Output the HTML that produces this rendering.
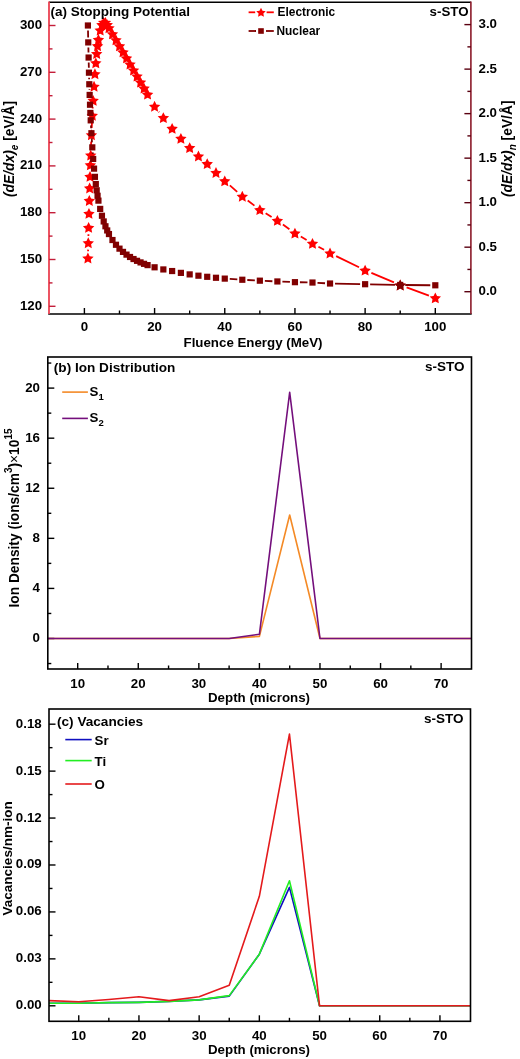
<!DOCTYPE html>
<html><head><meta charset="utf-8"><style>
html,body{margin:0;padding:0;background:#fff;}
svg{display:block;font-family:"Liberation Sans",Arial,sans-serif;font-weight:bold;}

</style></head><body>
<svg width="520" height="1059" viewBox="0 0 520 1059">
<path d="M88.07,251.30L88.10,249.61 M88.42,236.01L88.45,234.32 M90.95,148.34L91.18,141.65 M91.72,128.06L91.99,122.15 M92.69,108.57L92.77,107.17 M158.73,111.69L159.20,112.31 M229.86,185.37L237.20,191.83 M247.71,200.45L254.45,205.61 M265.65,213.29L271.60,216.94 M282.91,224.47L289.42,229.16 M300.80,236.58L306.62,239.99 M318.44,246.71L324.07,249.82 M336.14,256.09L359.01,267.28 M371.38,272.91L393.95,282.44 M406.60,287.41L428.91,295.55" fill="none" stroke="#ff0000" stroke-width="1.8"/>
<path d="M87.91,252.60 L89.67,256.17 L93.62,256.74 L90.76,259.52 L91.44,263.45 L87.91,261.60 L84.38,263.45 L85.06,259.52 L82.20,256.74 L86.15,256.17Z M88.26,237.31 L90.02,240.88 L93.97,241.45 L91.11,244.24 L91.79,248.16 L88.26,246.31 L84.73,248.16 L85.41,244.24 L82.55,241.45 L86.50,240.88Z M88.61,222.02 L90.37,225.59 L94.32,226.17 L91.46,228.95 L92.14,232.87 L88.61,231.02 L85.08,232.87 L85.76,228.95 L82.90,226.17 L86.85,225.59Z M88.96,207.98 L90.73,211.55 L94.67,212.13 L91.81,214.91 L92.49,218.83 L88.96,216.98 L85.43,218.83 L86.11,214.91 L83.26,212.13 L87.20,211.55Z M89.31,195.03 L91.08,198.60 L95.02,199.18 L92.17,201.96 L92.84,205.89 L89.31,204.03 L85.79,205.89 L86.46,201.96 L83.61,199.18 L87.55,198.60Z M89.66,182.55 L91.43,186.12 L95.37,186.70 L92.52,189.48 L93.19,193.41 L89.66,191.55 L86.14,193.41 L86.81,189.48 L83.96,186.70 L87.90,186.12Z M90.01,171.01 L91.78,174.58 L95.72,175.15 L92.87,177.94 L93.54,181.86 L90.01,180.01 L86.49,181.86 L87.16,177.94 L84.31,175.15 L88.25,174.58Z M90.37,159.46 L92.13,163.04 L96.07,163.61 L93.22,166.39 L93.89,170.32 L90.37,168.46 L86.84,170.32 L87.51,166.39 L84.66,163.61 L88.60,163.04Z M90.72,149.64 L92.48,153.21 L96.42,153.78 L93.57,156.56 L94.24,160.49 L90.72,158.64 L87.19,160.49 L87.86,156.56 L85.01,153.78 L88.95,153.21Z M91.42,129.36 L93.18,132.93 L97.12,133.50 L94.27,136.28 L94.94,140.21 L91.42,138.36 L87.89,140.21 L88.56,136.28 L85.71,133.50 L89.65,132.93Z M92.30,109.86 L94.06,113.43 L98.00,114.00 L95.15,116.78 L95.82,120.71 L92.30,118.86 L88.77,120.71 L89.44,116.78 L86.59,114.00 L90.53,113.43Z M93.17,94.88 L94.94,98.45 L98.88,99.03 L96.03,101.81 L96.70,105.73 L93.17,103.88 L89.65,105.73 L90.32,101.81 L87.47,99.03 L91.41,98.45Z M94.05,80.84 L95.81,84.41 L99.76,84.99 L96.90,87.77 L97.58,91.69 L94.05,89.84 L90.52,91.69 L91.20,87.77 L88.34,84.99 L92.29,84.41Z M94.93,68.36 L96.69,71.93 L100.63,72.51 L97.78,75.29 L98.45,79.21 L94.93,77.36 L91.40,79.21 L92.07,75.29 L89.22,72.51 L93.16,71.93Z M95.80,57.44 L97.57,61.01 L101.51,61.59 L98.66,64.37 L99.33,68.29 L95.80,66.44 L92.28,68.29 L92.95,64.37 L90.10,61.59 L94.04,61.01Z M96.68,48.08 L98.44,51.65 L102.39,52.23 L99.53,55.01 L100.21,58.93 L96.68,57.08 L93.15,58.93 L93.83,55.01 L90.98,52.23 L94.92,51.65Z M97.56,40.28 L99.32,43.85 L103.27,44.43 L100.41,47.21 L101.09,51.13 L97.56,49.28 L94.03,51.13 L94.71,47.21 L91.85,44.43 L95.80,43.85Z M98.44,34.04 L100.20,37.61 L104.14,38.19 L101.29,40.97 L101.96,44.89 L98.44,43.04 L94.91,44.89 L95.58,40.97 L92.73,38.19 L96.67,37.61Z M100.19,24.68 L101.95,28.25 L105.90,28.83 L103.04,31.61 L103.72,35.53 L100.19,33.68 L96.66,35.53 L97.34,31.61 L94.48,28.83 L98.43,28.25Z M101.95,19.22 L103.71,22.79 L107.65,23.37 L104.80,26.15 L105.47,30.07 L101.95,28.22 L98.42,30.07 L99.09,26.15 L96.24,23.37 L100.18,22.79Z M103.70,16.88 L105.46,20.45 L109.41,21.03 L106.55,23.81 L107.23,27.73 L103.70,25.88 L100.17,27.73 L100.85,23.81 L97.99,21.03 L101.94,20.45Z M105.45,16.88 L107.22,20.45 L111.16,21.03 L108.31,23.81 L108.98,27.73 L105.45,25.88 L101.93,27.73 L102.60,23.81 L99.75,21.03 L103.69,20.45Z M107.21,19.22 L108.97,22.79 L112.91,23.37 L110.06,26.15 L110.74,30.07 L107.21,28.22 L103.68,30.07 L104.36,26.15 L101.50,23.37 L105.45,22.79Z M108.96,22.34 L110.73,25.91 L114.67,26.49 L111.82,29.27 L112.49,33.19 L108.96,31.34 L105.44,33.19 L106.11,29.27 L103.26,26.49 L107.20,25.91Z M112.47,28.38 L114.24,31.95 L118.18,32.52 L115.33,35.30 L116.00,39.23 L112.47,37.38 L108.95,39.23 L109.62,35.30 L106.77,32.52 L110.71,31.95Z M115.98,34.41 L117.74,37.98 L121.69,38.56 L118.83,41.34 L119.51,45.27 L115.98,43.41 L112.45,45.27 L113.13,41.34 L110.27,38.56 L114.22,37.98Z M119.49,40.45 L121.25,44.02 L125.20,44.59 L122.34,47.38 L123.02,51.30 L119.49,49.45 L115.96,51.30 L116.64,47.38 L113.78,44.59 L117.73,44.02Z M123.00,46.48 L124.76,50.06 L128.71,50.63 L125.85,53.41 L126.53,57.34 L123.00,55.48 L119.47,57.34 L120.15,53.41 L117.29,50.63 L121.24,50.06Z M126.51,52.52 L128.27,56.09 L132.21,56.67 L129.36,59.45 L130.03,63.37 L126.51,61.52 L122.98,63.37 L123.65,59.45 L120.80,56.67 L124.74,56.09Z M130.02,58.56 L131.78,62.13 L135.72,62.70 L132.87,65.48 L133.54,69.41 L130.02,67.56 L126.49,69.41 L127.16,65.48 L124.31,62.70 L128.25,62.13Z M133.53,64.59 L135.29,68.16 L139.23,68.74 L136.38,71.52 L137.05,75.45 L133.53,73.59 L130.00,75.45 L130.67,71.52 L127.82,68.74 L131.76,68.16Z M137.03,70.63 L138.80,74.20 L142.74,74.77 L139.89,77.56 L140.56,81.48 L137.03,79.63 L133.51,81.48 L134.18,77.56 L131.33,74.77 L135.27,74.20Z M140.54,76.66 L142.31,80.24 L146.25,80.81 L143.40,83.59 L144.07,87.52 L140.54,85.66 L137.02,87.52 L137.69,83.59 L134.84,80.81 L138.78,80.24Z M144.05,82.70 L145.82,86.27 L149.76,86.85 L146.91,89.63 L147.58,93.55 L144.05,91.70 L140.53,93.55 L141.20,89.63 L138.35,86.85 L142.29,86.27Z M147.56,88.74 L149.33,92.31 L153.27,92.88 L150.42,95.66 L151.09,99.59 L147.56,97.74 L144.04,99.59 L144.71,95.66 L141.86,92.88 L145.80,92.31Z M154.58,100.81 L156.34,104.38 L160.29,104.95 L157.43,107.74 L158.11,111.66 L154.58,109.81 L151.05,111.66 L151.73,107.74 L148.87,104.95 L152.82,104.38Z M163.35,112.20 L165.12,115.77 L169.06,116.34 L166.21,119.12 L166.88,123.05 L163.35,121.20 L159.83,123.05 L160.50,119.12 L157.65,116.34 L161.59,115.77Z M172.12,122.96 L173.89,126.53 L177.83,127.11 L174.98,129.89 L175.65,133.81 L172.12,131.96 L168.60,133.81 L169.27,129.89 L166.42,127.11 L170.36,126.53Z M180.90,132.94 L182.66,136.52 L186.60,137.09 L183.75,139.87 L184.42,143.80 L180.90,141.94 L177.37,143.80 L178.04,139.87 L175.19,137.09 L179.13,136.52Z M189.67,142.15 L191.43,145.72 L195.38,146.29 L192.52,149.08 L193.20,153.00 L189.67,151.15 L186.14,153.00 L186.82,149.08 L183.96,146.29 L187.91,145.72Z M198.44,150.57 L200.21,154.14 L204.15,154.72 L201.30,157.50 L201.97,161.43 L198.44,159.57 L194.92,161.43 L195.59,157.50 L192.74,154.72 L196.68,154.14Z M207.22,158.22 L208.98,161.79 L212.92,162.36 L210.07,165.14 L210.74,169.07 L207.22,167.22 L203.69,169.07 L204.36,165.14 L201.51,162.36 L205.45,161.79Z M215.99,167.11 L217.75,170.68 L221.69,171.25 L218.84,174.04 L219.51,177.96 L215.99,176.11 L212.46,177.96 L213.13,174.04 L210.28,171.25 L214.22,170.68Z M224.76,175.38 L226.52,178.95 L230.47,179.52 L227.61,182.30 L228.29,186.23 L224.76,184.38 L221.23,186.23 L221.91,182.30 L219.05,179.52 L223.00,178.95Z M242.31,190.82 L244.07,194.39 L248.01,194.97 L245.16,197.75 L245.83,201.67 L242.31,199.82 L238.78,201.67 L239.45,197.75 L236.60,194.97 L240.54,194.39Z M259.85,204.24 L261.61,207.81 L265.56,208.38 L262.70,211.16 L263.38,215.09 L259.85,213.24 L256.32,215.09 L257.00,211.16 L254.14,208.38 L258.09,207.81Z M277.39,215.00 L279.16,218.57 L283.10,219.15 L280.25,221.93 L280.92,225.85 L277.39,224.00 L273.87,225.85 L274.54,221.93 L271.69,219.15 L275.63,218.57Z M294.94,227.64 L296.70,231.21 L300.65,231.78 L297.79,234.56 L298.47,238.49 L294.94,236.64 L291.41,238.49 L292.09,234.56 L289.23,231.78 L293.18,231.21Z M312.49,237.93 L314.25,241.50 L318.19,242.08 L315.34,244.86 L316.01,248.79 L312.49,246.93 L308.96,248.79 L309.63,244.86 L306.78,242.08 L310.72,241.50Z M330.03,247.60 L331.79,251.18 L335.74,251.75 L332.88,254.53 L333.56,258.46 L330.03,256.60 L326.50,258.46 L327.18,254.53 L324.32,251.75 L328.27,251.18Z M365.12,264.76 L366.88,268.34 L370.83,268.91 L367.97,271.69 L368.65,275.62 L365.12,273.76 L361.59,275.62 L362.27,271.69 L359.41,268.91 L363.36,268.34Z M400.21,279.58 L401.97,283.16 L405.92,283.73 L403.06,286.51 L403.74,290.44 L400.21,288.58 L396.68,290.44 L397.36,286.51 L394.50,283.73 L398.45,283.16Z M435.30,292.38 L437.06,295.95 L441.01,296.52 L438.15,299.30 L438.83,303.23 L435.30,301.38 L431.77,303.23 L432.45,299.30 L429.59,296.52 L433.54,295.95Z" fill="#ff0000"/>
<path d="M88.01,30.49L88.16,37.41 M88.38,47.41L88.49,52.54 M88.73,62.54L88.85,67.68 M89.11,77.68L89.16,79.25 M89.48,89.25L89.50,89.94 M90.99,125.35L91.15,128.23 M91.73,138.21L91.99,142.38 M92.67,152.36L92.79,153.97 M229.75,278.94L237.32,279.43 M247.30,280.01L254.86,280.42 M264.85,280.90L272.40,281.24 M282.39,281.66L289.94,281.97 M299.94,282.27L307.49,282.43 M317.48,282.81L325.04,283.23 M335.03,283.61L360.12,284.12 M370.12,284.32L395.21,284.83 M405.21,284.98L430.30,285.24" fill="none" stroke="#800000" stroke-width="1.8"/>
<rect x="84.81" y="22.39" width="6.2" height="6.2" fill="#800000"/>
<rect x="85.16" y="39.31" width="6.2" height="6.2" fill="#800000"/>
<rect x="85.51" y="54.44" width="6.2" height="6.2" fill="#800000"/>
<rect x="85.86" y="69.58" width="6.2" height="6.2" fill="#800000"/>
<rect x="86.21" y="81.15" width="6.2" height="6.2" fill="#800000"/>
<rect x="86.56" y="91.84" width="6.2" height="6.2" fill="#800000"/>
<rect x="86.91" y="101.63" width="6.2" height="6.2" fill="#800000"/>
<rect x="87.27" y="109.84" width="6.2" height="6.2" fill="#800000"/>
<rect x="87.62" y="117.25" width="6.2" height="6.2" fill="#800000"/>
<rect x="88.32" y="130.12" width="6.2" height="6.2" fill="#800000"/>
<rect x="89.20" y="144.27" width="6.2" height="6.2" fill="#800000"/>
<rect x="90.07" y="155.85" width="6.2" height="6.2" fill="#800000"/>
<rect x="90.95" y="165.53" width="6.2" height="6.2" fill="#800000"/>
<rect x="91.83" y="173.75" width="6.2" height="6.2" fill="#800000"/>
<rect x="92.70" y="180.93" width="6.2" height="6.2" fill="#800000"/>
<rect x="93.58" y="187.18" width="6.2" height="6.2" fill="#800000"/>
<rect x="94.46" y="192.67" width="6.2" height="6.2" fill="#800000"/>
<rect x="95.34" y="197.54" width="6.2" height="6.2" fill="#800000"/>
<rect x="97.09" y="205.80" width="6.2" height="6.2" fill="#800000"/>
<rect x="98.85" y="212.65" width="6.2" height="6.2" fill="#800000"/>
<rect x="100.60" y="218.35" width="6.2" height="6.2" fill="#800000"/>
<rect x="102.35" y="223.18" width="6.2" height="6.2" fill="#800000"/>
<rect x="104.11" y="227.34" width="6.2" height="6.2" fill="#800000"/>
<rect x="105.86" y="230.95" width="6.2" height="6.2" fill="#800000"/>
<rect x="109.37" y="236.92" width="6.2" height="6.2" fill="#800000"/>
<rect x="112.88" y="241.67" width="6.2" height="6.2" fill="#800000"/>
<rect x="116.39" y="245.55" width="6.2" height="6.2" fill="#800000"/>
<rect x="119.90" y="248.79" width="6.2" height="6.2" fill="#800000"/>
<rect x="123.41" y="251.53" width="6.2" height="6.2" fill="#800000"/>
<rect x="126.92" y="253.88" width="6.2" height="6.2" fill="#800000"/>
<rect x="130.43" y="255.93" width="6.2" height="6.2" fill="#800000"/>
<rect x="133.94" y="257.72" width="6.2" height="6.2" fill="#800000"/>
<rect x="137.44" y="259.31" width="6.2" height="6.2" fill="#800000"/>
<rect x="140.95" y="260.73" width="6.2" height="6.2" fill="#800000"/>
<rect x="144.46" y="262.01" width="6.2" height="6.2" fill="#800000"/>
<rect x="151.48" y="264.20" width="6.2" height="6.2" fill="#800000"/>
<rect x="160.25" y="266.34" width="6.2" height="6.2" fill="#800000"/>
<rect x="169.03" y="267.94" width="6.2" height="6.2" fill="#800000"/>
<rect x="177.80" y="269.77" width="6.2" height="6.2" fill="#800000"/>
<rect x="186.57" y="271.30" width="6.2" height="6.2" fill="#800000"/>
<rect x="195.34" y="272.59" width="6.2" height="6.2" fill="#800000"/>
<rect x="204.12" y="273.70" width="6.2" height="6.2" fill="#800000"/>
<rect x="212.89" y="274.67" width="6.2" height="6.2" fill="#800000"/>
<rect x="221.66" y="275.51" width="6.2" height="6.2" fill="#800000"/>
<rect x="239.21" y="276.65" width="6.2" height="6.2" fill="#800000"/>
<rect x="256.75" y="277.58" width="6.2" height="6.2" fill="#800000"/>
<rect x="274.29" y="278.36" width="6.2" height="6.2" fill="#800000"/>
<rect x="291.84" y="279.07" width="6.2" height="6.2" fill="#800000"/>
<rect x="309.38" y="279.43" width="6.2" height="6.2" fill="#800000"/>
<rect x="326.93" y="280.41" width="6.2" height="6.2" fill="#800000"/>
<rect x="362.02" y="281.12" width="6.2" height="6.2" fill="#800000"/>
<rect x="397.11" y="281.83" width="6.2" height="6.2" fill="#800000"/>
<rect x="432.20" y="282.19" width="6.2" height="6.2" fill="#800000"/>
<path d="M400.21,279.58 L401.97,283.16 L405.92,283.73 L403.06,286.51 L403.74,290.44 L400.21,288.58 L396.68,290.44 L397.36,286.51 L394.50,283.73 L398.45,283.16Z" fill="#800000"/>
<line x1="49.00" y1="2.30" x2="470.90" y2="2.30" stroke="#000" stroke-width="1.6"/>
<line x1="48.20" y1="314.00" x2="471.70" y2="314.00" stroke="#000" stroke-width="1.6"/>
<line x1="49.00" y1="1.50" x2="49.00" y2="314.00" stroke="#ea4252" stroke-width="1.8"/>
<line x1="470.90" y1="1.50" x2="470.90" y2="314.00" stroke="#8b1a2a" stroke-width="1.6"/>
<line x1="84.40" y1="314.00" x2="84.40" y2="308.00" stroke="#000" stroke-width="1.4"/>
<text x="84.40" y="331.00" text-anchor="middle" font-size="13.3" fill="#000" >0</text>
<line x1="119.49" y1="314.00" x2="119.49" y2="310.50" stroke="#000" stroke-width="1.4"/>
<line x1="154.58" y1="314.00" x2="154.58" y2="308.00" stroke="#000" stroke-width="1.4"/>
<text x="154.58" y="331.00" text-anchor="middle" font-size="13.3" fill="#000" >20</text>
<line x1="189.67" y1="314.00" x2="189.67" y2="310.50" stroke="#000" stroke-width="1.4"/>
<line x1="224.76" y1="314.00" x2="224.76" y2="308.00" stroke="#000" stroke-width="1.4"/>
<text x="224.76" y="331.00" text-anchor="middle" font-size="13.3" fill="#000" >40</text>
<line x1="259.85" y1="314.00" x2="259.85" y2="310.50" stroke="#000" stroke-width="1.4"/>
<line x1="294.94" y1="314.00" x2="294.94" y2="308.00" stroke="#000" stroke-width="1.4"/>
<text x="294.94" y="331.00" text-anchor="middle" font-size="13.3" fill="#000" >60</text>
<line x1="330.03" y1="314.00" x2="330.03" y2="310.50" stroke="#000" stroke-width="1.4"/>
<line x1="365.12" y1="314.00" x2="365.12" y2="308.00" stroke="#000" stroke-width="1.4"/>
<text x="365.12" y="331.00" text-anchor="middle" font-size="13.3" fill="#000" >80</text>
<line x1="400.21" y1="314.00" x2="400.21" y2="310.50" stroke="#000" stroke-width="1.4"/>
<line x1="435.30" y1="314.00" x2="435.30" y2="308.00" stroke="#000" stroke-width="1.4"/>
<text x="435.30" y="331.00" text-anchor="middle" font-size="13.3" fill="#000" >100</text>
<text x="253.00" y="346.60" text-anchor="middle" font-size="13.3" fill="#000" >Fluence Energy (MeV)</text>
<line x1="49.00" y1="306.30" x2="55.50" y2="306.30" stroke="#c41e3a" stroke-width="1.4"/>
<text x="42.10" y="309.70" text-anchor="end" font-size="13.3" fill="#000" >120</text>
<line x1="49.00" y1="282.90" x2="52.50" y2="282.90" stroke="#c41e3a" stroke-width="1.4"/>
<line x1="49.00" y1="259.50" x2="55.50" y2="259.50" stroke="#c41e3a" stroke-width="1.4"/>
<text x="42.10" y="262.90" text-anchor="end" font-size="13.3" fill="#000" >150</text>
<line x1="49.00" y1="236.10" x2="52.50" y2="236.10" stroke="#c41e3a" stroke-width="1.4"/>
<line x1="49.00" y1="212.70" x2="55.50" y2="212.70" stroke="#c41e3a" stroke-width="1.4"/>
<text x="42.10" y="216.10" text-anchor="end" font-size="13.3" fill="#000" >180</text>
<line x1="49.00" y1="189.30" x2="52.50" y2="189.30" stroke="#c41e3a" stroke-width="1.4"/>
<line x1="49.00" y1="165.90" x2="55.50" y2="165.90" stroke="#c41e3a" stroke-width="1.4"/>
<text x="42.10" y="169.30" text-anchor="end" font-size="13.3" fill="#000" >210</text>
<line x1="49.00" y1="142.50" x2="52.50" y2="142.50" stroke="#c41e3a" stroke-width="1.4"/>
<line x1="49.00" y1="119.10" x2="55.50" y2="119.10" stroke="#c41e3a" stroke-width="1.4"/>
<text x="42.10" y="122.50" text-anchor="end" font-size="13.3" fill="#000" >240</text>
<line x1="49.00" y1="95.70" x2="52.50" y2="95.70" stroke="#c41e3a" stroke-width="1.4"/>
<line x1="49.00" y1="72.30" x2="55.50" y2="72.30" stroke="#c41e3a" stroke-width="1.4"/>
<text x="42.10" y="75.70" text-anchor="end" font-size="13.3" fill="#000" >270</text>
<line x1="49.00" y1="48.90" x2="52.50" y2="48.90" stroke="#c41e3a" stroke-width="1.4"/>
<line x1="49.00" y1="25.50" x2="55.50" y2="25.50" stroke="#c41e3a" stroke-width="1.4"/>
<text x="42.10" y="28.90" text-anchor="end" font-size="13.3" fill="#000" >300</text>
<line x1="470.90" y1="291.70" x2="464.40" y2="291.70" stroke="#5a0010" stroke-width="1.4"/>
<text x="478.50" y="295.10" text-anchor="start" font-size="13.3" fill="#000" >0.0</text>
<line x1="470.90" y1="269.44" x2="467.40" y2="269.44" stroke="#5a0010" stroke-width="1.4"/>
<line x1="470.90" y1="247.18" x2="464.40" y2="247.18" stroke="#5a0010" stroke-width="1.4"/>
<text x="478.50" y="250.58" text-anchor="start" font-size="13.3" fill="#000" >0.5</text>
<line x1="470.90" y1="224.93" x2="467.40" y2="224.93" stroke="#5a0010" stroke-width="1.4"/>
<line x1="470.90" y1="202.67" x2="464.40" y2="202.67" stroke="#5a0010" stroke-width="1.4"/>
<text x="478.50" y="206.07" text-anchor="start" font-size="13.3" fill="#000" >1.0</text>
<line x1="470.90" y1="180.41" x2="467.40" y2="180.41" stroke="#5a0010" stroke-width="1.4"/>
<line x1="470.90" y1="158.15" x2="464.40" y2="158.15" stroke="#5a0010" stroke-width="1.4"/>
<text x="478.50" y="161.55" text-anchor="start" font-size="13.3" fill="#000" >1.5</text>
<line x1="470.90" y1="135.89" x2="467.40" y2="135.89" stroke="#5a0010" stroke-width="1.4"/>
<line x1="470.90" y1="113.63" x2="464.40" y2="113.63" stroke="#5a0010" stroke-width="1.4"/>
<text x="478.50" y="117.03" text-anchor="start" font-size="13.3" fill="#000" >2.0</text>
<line x1="470.90" y1="91.38" x2="467.40" y2="91.38" stroke="#5a0010" stroke-width="1.4"/>
<line x1="470.90" y1="69.12" x2="464.40" y2="69.12" stroke="#5a0010" stroke-width="1.4"/>
<text x="478.50" y="72.52" text-anchor="start" font-size="13.3" fill="#000" >2.5</text>
<line x1="470.90" y1="46.86" x2="467.40" y2="46.86" stroke="#5a0010" stroke-width="1.4"/>
<line x1="470.90" y1="24.60" x2="464.40" y2="24.60" stroke="#5a0010" stroke-width="1.4"/>
<text x="478.50" y="28.00" text-anchor="start" font-size="13.3" fill="#000" >3.0</text>
<text transform="translate(14.4,149) rotate(-90)" text-anchor="middle" font-size="13.8"><tspan font-style="italic">(dE/dx)</tspan><tspan font-size="10" dy="3.8" font-style="italic">e</tspan><tspan dy="-3.8"> [eV/Å]</tspan></text>
<text transform="translate(512.4,148.8) rotate(-90)" text-anchor="middle" font-size="13.8"><tspan font-style="italic">(dE/dx)</tspan><tspan font-size="10" dy="3.8" font-style="italic">n</tspan><tspan dy="-3.8"> [eV/Å]</tspan></text>
<text x="50.60" y="15.60" text-anchor="start" font-size="13.5" fill="#000" >(a) Stopping Potential</text>
<text x="468.50" y="16.20" text-anchor="end" font-size="13.3" fill="#000" >s-STO</text>
<line x1="248.60" y1="12.30" x2="255.20" y2="12.30" stroke="#ff0000" stroke-width="1.8"/>
<line x1="266.60" y1="12.30" x2="273.80" y2="12.30" stroke="#ff0000" stroke-width="1.8"/>
<path d="M261.00,7.80 L262.47,10.78 L265.76,11.25 L263.38,13.57 L263.94,16.85 L261.00,15.30 L258.06,16.85 L258.62,13.57 L256.24,11.25 L259.53,10.78Z" fill="#ff0000"/>
<text x="277.60" y="15.80" text-anchor="start" font-size="11.9" fill="#000" >Electronic</text>
<line x1="248.60" y1="31.00" x2="256.00" y2="31.00" stroke="#800000" stroke-width="1.8"/>
<line x1="266.00" y1="31.00" x2="273.80" y2="31.00" stroke="#800000" stroke-width="1.8"/>
<rect x="258.2" y="28.2" width="5.6" height="5.6" fill="#800000"/>
<text x="276.50" y="35.00" text-anchor="start" font-size="11.9" fill="#000" >Nuclear</text>
<line x1="77.70" y1="669.00" x2="77.70" y2="663.00" stroke="#000" stroke-width="1.4"/>
<text x="77.70" y="687.50" text-anchor="middle" font-size="13.3" fill="#000" >10</text>
<line x1="107.99" y1="669.00" x2="107.99" y2="665.50" stroke="#000" stroke-width="1.4"/>
<line x1="138.27" y1="669.00" x2="138.27" y2="663.00" stroke="#000" stroke-width="1.4"/>
<text x="138.27" y="687.50" text-anchor="middle" font-size="13.3" fill="#000" >20</text>
<line x1="168.56" y1="669.00" x2="168.56" y2="665.50" stroke="#000" stroke-width="1.4"/>
<line x1="198.84" y1="669.00" x2="198.84" y2="663.00" stroke="#000" stroke-width="1.4"/>
<text x="198.84" y="687.50" text-anchor="middle" font-size="13.3" fill="#000" >30</text>
<line x1="229.12" y1="669.00" x2="229.12" y2="665.50" stroke="#000" stroke-width="1.4"/>
<line x1="259.41" y1="669.00" x2="259.41" y2="663.00" stroke="#000" stroke-width="1.4"/>
<text x="259.41" y="687.50" text-anchor="middle" font-size="13.3" fill="#000" >40</text>
<line x1="289.69" y1="669.00" x2="289.69" y2="665.50" stroke="#000" stroke-width="1.4"/>
<line x1="319.98" y1="669.00" x2="319.98" y2="663.00" stroke="#000" stroke-width="1.4"/>
<text x="319.98" y="687.50" text-anchor="middle" font-size="13.3" fill="#000" >50</text>
<line x1="350.26" y1="669.00" x2="350.26" y2="665.50" stroke="#000" stroke-width="1.4"/>
<line x1="380.55" y1="669.00" x2="380.55" y2="663.00" stroke="#000" stroke-width="1.4"/>
<text x="380.55" y="687.50" text-anchor="middle" font-size="13.3" fill="#000" >60</text>
<line x1="410.84" y1="669.00" x2="410.84" y2="665.50" stroke="#000" stroke-width="1.4"/>
<line x1="441.12" y1="669.00" x2="441.12" y2="663.00" stroke="#000" stroke-width="1.4"/>
<text x="441.12" y="687.50" text-anchor="middle" font-size="13.3" fill="#000" >70</text>
<text x="259.00" y="701.50" text-anchor="middle" font-size="13.3" fill="#000" >Depth (microns)</text>
<line x1="47.80" y1="663.54" x2="51.30" y2="663.54" stroke="#000" stroke-width="1.4"/>
<line x1="47.80" y1="638.50" x2="54.30" y2="638.50" stroke="#000" stroke-width="1.4"/>
<text x="40.00" y="642.00" text-anchor="end" font-size="13.3" fill="#000" >0</text>
<line x1="47.80" y1="613.46" x2="51.30" y2="613.46" stroke="#000" stroke-width="1.4"/>
<line x1="47.80" y1="588.42" x2="54.30" y2="588.42" stroke="#000" stroke-width="1.4"/>
<text x="40.00" y="591.92" text-anchor="end" font-size="13.3" fill="#000" >4</text>
<line x1="47.80" y1="563.38" x2="51.30" y2="563.38" stroke="#000" stroke-width="1.4"/>
<line x1="47.80" y1="538.34" x2="54.30" y2="538.34" stroke="#000" stroke-width="1.4"/>
<text x="40.00" y="541.84" text-anchor="end" font-size="13.3" fill="#000" >8</text>
<line x1="47.80" y1="513.30" x2="51.30" y2="513.30" stroke="#000" stroke-width="1.4"/>
<line x1="47.80" y1="488.26" x2="54.30" y2="488.26" stroke="#000" stroke-width="1.4"/>
<text x="40.00" y="491.76" text-anchor="end" font-size="13.3" fill="#000" >12</text>
<line x1="47.80" y1="463.22" x2="51.30" y2="463.22" stroke="#000" stroke-width="1.4"/>
<line x1="47.80" y1="438.18" x2="54.30" y2="438.18" stroke="#000" stroke-width="1.4"/>
<text x="40.00" y="441.68" text-anchor="end" font-size="13.3" fill="#000" >16</text>
<line x1="47.80" y1="413.14" x2="51.30" y2="413.14" stroke="#000" stroke-width="1.4"/>
<line x1="47.80" y1="388.10" x2="54.30" y2="388.10" stroke="#000" stroke-width="1.4"/>
<text x="40.00" y="391.60" text-anchor="end" font-size="13.3" fill="#000" >20</text>
<line x1="47.80" y1="363.06" x2="51.30" y2="363.06" stroke="#000" stroke-width="1.4"/>
<polyline points="47.80,638.50 77.70,638.50 107.99,638.50 138.27,638.50 168.56,638.50 198.84,638.50 229.12,638.50 259.41,636.37 289.69,515.05 319.98,638.50 350.26,638.50 380.55,638.50 410.84,638.50 441.12,638.50 471.50,638.50" fill="none" stroke="#f48a26" stroke-width="1.6" stroke-linejoin="round"/>
<polyline points="47.80,638.50 77.70,638.50 107.99,638.50 138.27,638.50 168.56,638.50 198.84,638.50 229.12,638.50 259.41,634.24 289.69,392.23 319.98,638.50 350.26,638.50 380.55,638.50 410.84,638.50 441.12,638.50 471.50,638.50" fill="none" stroke="#740f7c" stroke-width="1.6" stroke-linejoin="round"/>
<rect x="47.8" y="357.0" width="423.7" height="312.0" fill="none" stroke="#000" stroke-width="1.6"/>
<text transform="translate(18.6,518.0) rotate(-90)" text-anchor="middle" font-size="13.75">Ion Density (ions/cm<tspan font-size="10" dy="-7">3</tspan><tspan dy="7">)</tspan><tspan font-weight="normal" style="stroke-width:0">×</tspan>10<tspan font-size="10" dy="-7">15</tspan></text>
<text x="53.80" y="372.30" text-anchor="start" font-size="13.6" fill="#000" >(b) Ion Distribution</text>
<text x="464.60" y="370.90" text-anchor="end" font-size="13.5" fill="#000" >s-STO</text>
<line x1="62.20" y1="392.10" x2="87.90" y2="392.10" stroke="#f48a26" stroke-width="1.6"/>
<text x="89.6" y="396" font-size="13.3">S<tspan font-size="9.5" dy="3.5">1</tspan></text>
<line x1="62.20" y1="418.40" x2="87.90" y2="418.40" stroke="#740f7c" stroke-width="1.6"/>
<text x="89.6" y="422.3" font-size="13.3">S<tspan font-size="9.5" dy="3.5">2</tspan></text>
<line x1="78.75" y1="1021.30" x2="78.75" y2="1015.30" stroke="#000" stroke-width="1.4"/>
<text x="78.75" y="1039.50" text-anchor="middle" font-size="13.3" fill="#000" >10</text>
<line x1="108.85" y1="1021.30" x2="108.85" y2="1017.80" stroke="#000" stroke-width="1.4"/>
<line x1="138.95" y1="1021.30" x2="138.95" y2="1015.30" stroke="#000" stroke-width="1.4"/>
<text x="138.95" y="1039.50" text-anchor="middle" font-size="13.3" fill="#000" >20</text>
<line x1="169.05" y1="1021.30" x2="169.05" y2="1017.80" stroke="#000" stroke-width="1.4"/>
<line x1="199.15" y1="1021.30" x2="199.15" y2="1015.30" stroke="#000" stroke-width="1.4"/>
<text x="199.15" y="1039.50" text-anchor="middle" font-size="13.3" fill="#000" >30</text>
<line x1="229.25" y1="1021.30" x2="229.25" y2="1017.80" stroke="#000" stroke-width="1.4"/>
<line x1="259.35" y1="1021.30" x2="259.35" y2="1015.30" stroke="#000" stroke-width="1.4"/>
<text x="259.35" y="1039.50" text-anchor="middle" font-size="13.3" fill="#000" >40</text>
<line x1="289.45" y1="1021.30" x2="289.45" y2="1017.80" stroke="#000" stroke-width="1.4"/>
<line x1="319.55" y1="1021.30" x2="319.55" y2="1015.30" stroke="#000" stroke-width="1.4"/>
<text x="319.55" y="1039.50" text-anchor="middle" font-size="13.3" fill="#000" >50</text>
<line x1="349.65" y1="1021.30" x2="349.65" y2="1017.80" stroke="#000" stroke-width="1.4"/>
<line x1="379.75" y1="1021.30" x2="379.75" y2="1015.30" stroke="#000" stroke-width="1.4"/>
<text x="379.75" y="1039.50" text-anchor="middle" font-size="13.3" fill="#000" >60</text>
<line x1="409.85" y1="1021.30" x2="409.85" y2="1017.80" stroke="#000" stroke-width="1.4"/>
<line x1="439.95" y1="1021.30" x2="439.95" y2="1015.30" stroke="#000" stroke-width="1.4"/>
<text x="439.95" y="1039.50" text-anchor="middle" font-size="13.3" fill="#000" >70</text>
<text x="259.00" y="1053.50" text-anchor="middle" font-size="13.3" fill="#000" >Depth (microns)</text>
<line x1="49.00" y1="1005.80" x2="55.50" y2="1005.80" stroke="#000" stroke-width="1.4"/>
<text x="41.70" y="1009.30" text-anchor="end" font-size="13.3" fill="#000" >0.00</text>
<line x1="49.00" y1="982.33" x2="52.50" y2="982.33" stroke="#000" stroke-width="1.4"/>
<line x1="49.00" y1="958.87" x2="55.50" y2="958.87" stroke="#000" stroke-width="1.4"/>
<text x="41.70" y="962.37" text-anchor="end" font-size="13.3" fill="#000" >0.03</text>
<line x1="49.00" y1="935.40" x2="52.50" y2="935.40" stroke="#000" stroke-width="1.4"/>
<line x1="49.00" y1="911.93" x2="55.50" y2="911.93" stroke="#000" stroke-width="1.4"/>
<text x="41.70" y="915.43" text-anchor="end" font-size="13.3" fill="#000" >0.06</text>
<line x1="49.00" y1="888.46" x2="52.50" y2="888.46" stroke="#000" stroke-width="1.4"/>
<line x1="49.00" y1="864.99" x2="55.50" y2="864.99" stroke="#000" stroke-width="1.4"/>
<text x="41.70" y="868.49" text-anchor="end" font-size="13.3" fill="#000" >0.09</text>
<line x1="49.00" y1="841.53" x2="52.50" y2="841.53" stroke="#000" stroke-width="1.4"/>
<line x1="49.00" y1="818.06" x2="55.50" y2="818.06" stroke="#000" stroke-width="1.4"/>
<text x="41.70" y="821.56" text-anchor="end" font-size="13.3" fill="#000" >0.12</text>
<line x1="49.00" y1="794.59" x2="52.50" y2="794.59" stroke="#000" stroke-width="1.4"/>
<line x1="49.00" y1="771.12" x2="55.50" y2="771.12" stroke="#000" stroke-width="1.4"/>
<text x="41.70" y="774.62" text-anchor="end" font-size="13.3" fill="#000" >0.15</text>
<line x1="49.00" y1="747.66" x2="52.50" y2="747.66" stroke="#000" stroke-width="1.4"/>
<line x1="49.00" y1="724.19" x2="55.50" y2="724.19" stroke="#000" stroke-width="1.4"/>
<text x="41.70" y="727.69" text-anchor="end" font-size="13.3" fill="#000" >0.18</text>
<polyline points="49.00,1003.30 78.75,1003.30 108.85,1002.67 138.95,1002.36 169.05,1001.42 199.15,999.85 229.25,996.10 259.35,954.17 289.45,887.37 319.55,1005.80 349.65,1005.80 379.75,1005.80 409.85,1005.80 439.95,1005.80 470.50,1005.80" fill="none" stroke="#1010c0" stroke-width="1.6" stroke-linejoin="round"/>
<polyline points="49.00,1003.30 78.75,1003.30 108.85,1002.67 138.95,1002.36 169.05,1001.42 199.15,999.85 229.25,995.63 259.35,954.17 289.45,880.80 319.55,1005.80 349.65,1005.80 379.75,1005.80 409.85,1005.80 439.95,1005.80 470.50,1005.80" fill="none" stroke="#22ee22" stroke-width="1.6" stroke-linejoin="round"/>
<polyline points="49.00,1000.64 78.75,1001.73 108.85,999.54 138.95,996.73 169.05,1000.64 199.15,996.73 229.25,985.31 259.35,896.28 289.45,734.05 319.55,1005.80 349.65,1005.80 379.75,1005.80 409.85,1005.80 439.95,1005.80 470.50,1005.80" fill="none" stroke="#e41a1c" stroke-width="1.6" stroke-linejoin="round"/>
<rect x="49.0" y="709.0" width="421.5" height="312.29999999999995" fill="none" stroke="#000" stroke-width="1.6"/>
<text transform="translate(12.2,858.4) rotate(-90)" text-anchor="middle" font-size="13.5">Vacancies/nm-ion</text>
<text x="57.00" y="725.80" text-anchor="start" font-size="13.6" fill="#000" >(c) Vacancies</text>
<text x="463.50" y="723.40" text-anchor="end" font-size="13.5" fill="#000" >s-STO</text>
<line x1="65.30" y1="739.60" x2="91.70" y2="739.60" stroke="#1010c0" stroke-width="1.6"/>
<text x="94.60" y="745.00" text-anchor="start" font-size="13.3" fill="#000" >Sr</text>
<line x1="65.30" y1="760.60" x2="91.70" y2="760.60" stroke="#22ee22" stroke-width="1.6"/>
<text x="94.60" y="766.00" text-anchor="start" font-size="13.3" fill="#000" >Ti</text>
<line x1="65.30" y1="784.00" x2="91.70" y2="784.00" stroke="#e41a1c" stroke-width="1.6"/>
<text x="94.60" y="789.40" text-anchor="start" font-size="13.3" fill="#000" >O</text>
</svg>
</body></html>
